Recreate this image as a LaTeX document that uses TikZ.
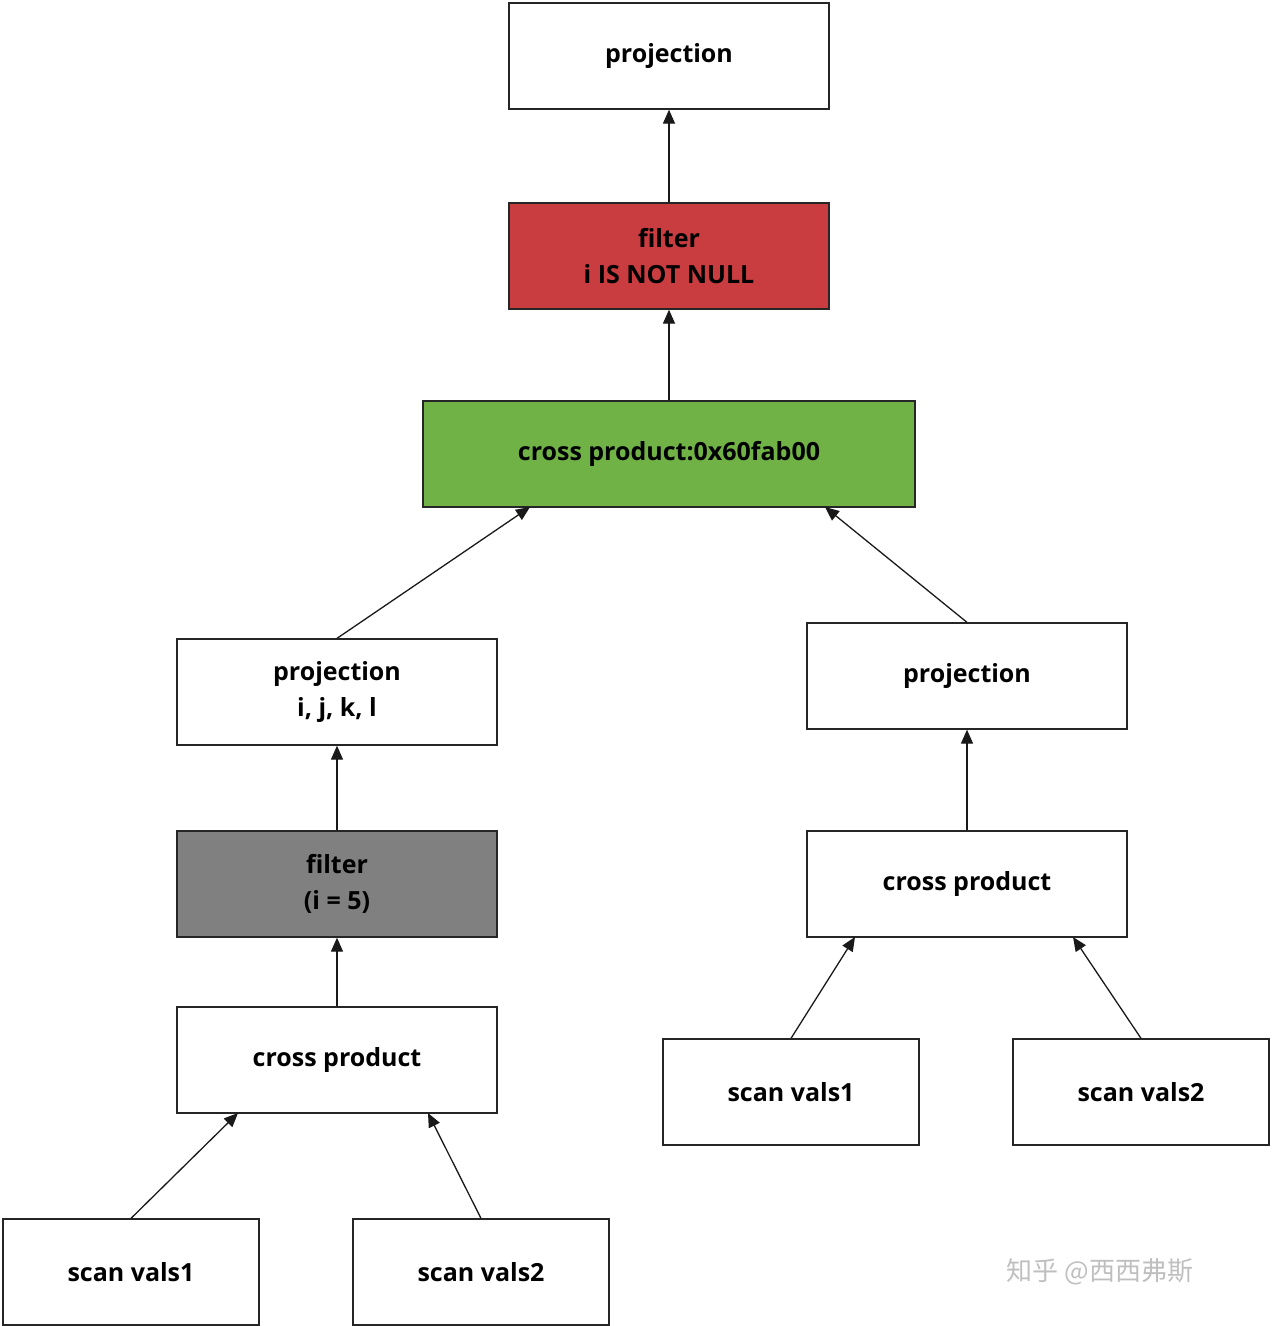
\documentclass[tikz,border=0pt]{standalone}
\usepackage{fontspec}
\setmainfont{Open Sans}
\newfontfamily\cjk{Noto Sans CJK SC}
\usetikzlibrary{arrows.meta}
\definecolor{redf}{RGB}{201,60,64}
\definecolor{greenf}{RGB}{112,178,70}
\definecolor{grayf}{RGB}{128,128,128}
\begin{document}
\begin{tikzpicture}[x=1pt,y=-1pt,
 box/.style={draw=black!85,line width=1.3pt,minimum height=106pt,align=center,font=\bfseries\fontsize{25}{36}\selectfont,inner sep=0pt},
 w/.style={box,minimum width=320pt},
 s/.style={box,minimum width=256pt},
 arr/.style={-{Triangle[length=14pt,width=12pt]},line width=1.3pt,black!90}]
\useasboundingbox (0,0) rectangle (1272,1326);
\node[w] (p0) at (669,56) {projection};
\node[w,fill=redf] (f0) at (669,256) {filter\\i IS NOT NULL};
\node[box,minimum width=492pt,fill=greenf] (cg) at (669,454) {cross product:0x60fab00};
\node[w] (pl) at (337,692) {projection\\i, j, k, l};
\node[w] (pr) at (967,676) {projection};
\node[w,fill=grayf] (fl) at (337,884) {filter\\(i = 5)};
\node[w] (cr) at (967,884) {cross product};
\node[w] (cl) at (337,1060) {cross product};
\node[s] (sl1) at (131,1272) {scan vals1};
\node[s] (sl2) at (481,1272) {scan vals2};
\node[s] (sr1) at (791,1092) {scan vals1};
\node[s] (sr2) at (1141,1092) {scan vals2};
\coordinate (a1) at (530,507);
\coordinate (a2) at (825,507);
\coordinate (a3) at (238,1113);
\coordinate (a4) at (428,1113);
\coordinate (a5) at (855,937);
\coordinate (a6) at (1073,937);
\draw[arr] (f0) -- (p0);
\draw[arr] (cg) -- (f0);
\draw[arr] (pl.north) -- (a1);
\draw[arr] (pr.north) -- (a2);
\draw[arr] (fl) -- (pl);
\draw[arr] (cl) -- (fl);
\draw[arr] (cr) -- (pr);
\draw[arr] (sl1.north) -- (a3);
\draw[arr] (sl2.north) -- (a4);
\draw[arr] (sr1.north) -- (a5);
\draw[arr] (sr2.north) -- (a6);
\node[text=black!25,font=\cjk\fontsize{26}{30}\selectfont] (wm) at (1100,1272) {知乎 @西西弗斯};
\end{tikzpicture}
\end{document}
